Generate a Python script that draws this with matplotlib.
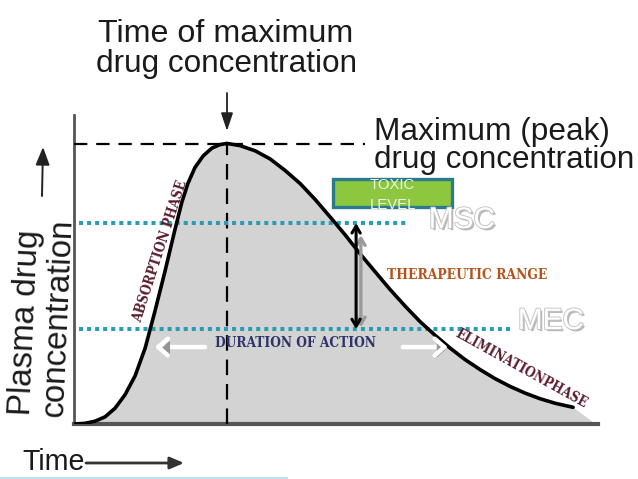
import matplotlib
matplotlib.use("Agg")
import matplotlib.pyplot as plt
import matplotlib.patheffects as pe
from matplotlib import font_manager
from matplotlib.font_manager import FontProperties
from matplotlib.lines import Line2D
from matplotlib.patches import Rectangle, FancyArrowPatch

# concentration-time curve (time units, % of axis height)
times = [0.02, 0.25, 0.48, 0.71, 0.94, 1.17, 1.40, 1.63, 1.85, 2.08, 2.31, 2.47,
         2.61, 2.77, 2.96, 3.16, 3.34, 3.50, 3.80, 4.15, 4.49, 4.83, 5.18, 5.52,
         5.86, 6.21, 6.55, 6.90, 7.24, 7.58, 7.92, 8.27, 8.61, 8.95, 9.30, 9.64,
         9.98, 10.33, 10.67, 11.02, 11.43]
conc = [0.0, 0.2, 0.9, 2.3, 5.1, 9.5, 15.6, 24.6, 36.3, 49.2, 62.8, 71.8,
        77.9, 83.0, 86.8, 89.3, 90.4, 90.8, 90.1, 88.4, 85.8, 82.1, 77.8, 72.7,
        67.1, 61.2, 55.1, 49.2, 43.5, 38.2, 33.2, 28.7, 24.6, 20.9, 17.6, 14.7,
        12.2, 10.0, 8.2, 6.7, 5.4]
fill_end_time = 11.95

t_max = 3.50
c_max = 90.7
msc = 65.0
mec = 30.7
msc_line_end = 7.65
mec_line_end = 9.98
peak_line_end = 6.66
toxic_box = (5.93, 70.2, 2.73, 9.1)  # t, c, width, height

W, H = 638, 479

SANS = FontProperties(family=["Liberation Sans", "DejaVu Sans"])
serif_file = None
for f in font_manager.fontManager.ttflist:
    if f.fname.endswith("DejaVuSerifCondensed-Bold.ttf"):
        serif_file = f.fname
        break
if serif_file:
    SERIF_B = FontProperties(fname=serif_file)
else:
    SERIF_B = FontProperties(family=["Liberation Serif", "DejaVu Serif"], weight="bold")


def fx(x):
    return x / W


def fy(y):
    return 1 - y / H


fig = plt.figure(figsize=(W / 100, H / 100), dpi=100)
fig.patch.set_facecolor("white")
renderer = fig.canvas.get_renderer()


def fit(s, prop, width_px):
    """font size (pt) that makes s about width_px wide"""
    p = prop.copy()
    p.set_size(10)
    w, _, _ = renderer.get_text_width_height_descent(s, p, ismath=False)
    return 10 * width_px / w


def fp(prop, size):
    p = prop.copy()
    p.set_size(size)
    return p


ax = fig.add_axes([fx(74), fy(424), fx(598) - fx(74), fy(115) - fy(424)])
ax.set_xlim(0, 12)
ax.set_ylim(0, 100)
ax.set_xticks([])
ax.set_yticks([])
for s in ("top", "right"):
    ax.spines[s].set_visible(False)
ax.spines["left"].set_color("#555555")
ax.spines["left"].set_linewidth(2.0)
ax.spines["bottom"].set_color("#555555")
ax.spines["bottom"].set_linewidth(3.0)
ax.set_facecolor("none")

# grey area under the curve
ax.fill_between(times + [fill_end_time], conc + [0], 0, color="#d3d3d3", lw=0, zorder=1)

# reference lines
ax.plot([0, peak_line_end], [c_max, c_max], color="black", lw=1.6,
        dashes=(6, 4), zorder=3, clip_on=False)
ax.plot([t_max, t_max], [0, c_max], color="black", lw=1.6,
        dashes=(7, 4), zorder=3)
ax.plot([0.11, msc_line_end], [msc, msc], color="#2b9db3", lw=2.9,
        linestyle=(0, (1, 1)), zorder=4)
ax.plot([0.11, mec_line_end], [mec, mec], color="#2b9db3", lw=2.9,
        linestyle=(0, (1, 1)), zorder=4)

ax.plot(times, conc, color="black", lw=2.6, solid_joinstyle="round",
        solid_capstyle="round", zorder=5)

# toxic level box
box = Rectangle((toxic_box[0], toxic_box[1]), toxic_box[2], toxic_box[3],
                facecolor="#8dc63f", edgecolor="#2c7b8c", lw=2.4, zorder=6)
ax.add_patch(box)
tox_prop = fp(SANS, fit("TOXIC", SANS, 45))
ax.text(6.78, 79.5, "TOXIC", color="#eef6e6", fontproperties=tox_prop,
        ha="left", va="top", zorder=7)
lvl = ax.text(6.78, 73.0, "LEVEL", color="#eef6e6", fontproperties=tox_prop,
              ha="left", va="top", zorder=7)
lvl.set_clip_path(box)

# MSC / MEC labels
glow = [pe.SimplePatchShadow(offset=(1.5, -1.5), shadow_rgbFace="#9a9a9a", alpha=0.7),
        pe.withStroke(linewidth=1.3, foreground="#c4c4c4")]
lvl_size = fit("MSC", SANS, 66)
ax.text(8.88, 66.0, "MSC", color="white", fontproperties=fp(SANS, lvl_size),
        ha="center", va="center", path_effects=glow, zorder=7)
ax.text(10.92, 33.3, "MEC", color="white", fontproperties=fp(SANS, lvl_size),
        ha="center", va="center", path_effects=glow, zorder=7)

# therapeutic range arrow (with grey shadow)
ax.annotate("", xy=(6.57, 62.0), xytext=(6.57, 30.4),
            arrowprops=dict(arrowstyle="<->,head_length=0.5,head_width=0.3",
                            color="#9a9a9a", lw=2.4), zorder=6)
ax.annotate("", xy=(6.46, msc), xytext=(6.46, mec),
            arrowprops=dict(arrowstyle="<->,head_length=0.5,head_width=0.3",
                            color="black", lw=2.2, shrinkA=0, shrinkB=0), zorder=7)

# duration of action arrows
white_arrow = dict(arrowstyle="->,head_length=0.7,head_width=0.6", color="white",
                   lw=3.2, shrinkA=0, shrinkB=0,
                   path_effects=[pe.SimplePatchShadow(offset=(1.5, -1.5),
                                                      shadow_rgbFace="#8a8a8a", alpha=0.9),
                                 pe.Normal()])
ax.annotate("", xy=(1.85, 24.9), xytext=(3.0, 24.9), arrowprops=white_arrow, zorder=7)
ax.annotate("", xy=(8.56, 24.9), xytext=(7.53, 24.9), arrowprops=white_arrow, zorder=7)

grow = 1.08  # reference face is a taller, condensed serif
ax.text(5.08, 26.2, "DURATION OF ACTION", color="#2f3468", ha="center", va="center",
        fontproperties=fp(SERIF_B, grow * fit("DURATION OF ACTION", SERIF_B, 149)),
        zorder=8)
ax.text(7.17, 48.2, "THERAPEUTIC RANGE", color="#b4541a", ha="left", va="center",
        fontproperties=fp(SERIF_B, grow * fit("THERAPEUTIC RANGE", SERIF_B, 148)),
        zorder=8)
ax.text(1.97, 56.0, "ABSORPTION PHASE", color="#5b1d2e", ha="center", va="center",
        rotation=72, rotation_mode="anchor",
        fontproperties=fp(SERIF_B, grow * fit("ABSORPTION PHASE", SERIF_B, 138)),
        zorder=8)
ax.text(10.24, 17.8, "ELIMINATIONPHASE", color="#5b1d2e", ha="center", va="center",
        rotation=-29, rotation_mode="anchor",
        fontproperties=fp(SERIF_B, grow * fit("ELIMINATIONPHASE", SERIF_B, 137)),
        zorder=8)

# text around the plot, placed in figure pixels
ink = "#1a1a1a"
fig.text(fx(226), fy(42), "Time of maximum", ha="center", va="baseline", color=ink,
         fontproperties=fp(SANS, fit("Time of maximum", SANS, 257)))
fig.text(fx(226), fy(72), "drug concentration", ha="center", va="baseline", color=ink,
         fontproperties=fp(SANS, fit("drug concentration", SANS, 263)))
fig.text(fx(374), fy(140), "Maximum (peak)", ha="left", va="baseline", color=ink,
         fontproperties=fp(SANS, fit("Maximum (peak)", SANS, 236)))
fig.text(fx(374), fy(168), "drug concentration", ha="left", va="baseline", color=ink,
         fontproperties=fp(SANS, fit("drug concentration", SANS, 261)))

ylab_size = fit("concentration", SANS, 200)
fig.text(fx(30), fy(416), "Plasma drug", rotation=87.5, rotation_mode="anchor",
         ha="left", va="baseline", color=ink, fontproperties=fp(SANS, ylab_size))
fig.text(fx(63), fy(417), "concentration", rotation=87.5, rotation_mode="anchor",
         ha="left", va="baseline", color=ink, fontproperties=fp(SANS, ylab_size))
fig.text(fx(22), fy(470), "Time", ha="left", va="baseline", color=ink,
         fontproperties=fp(SANS, fit("Time", SANS, 63)))

fig.add_artist(FancyArrowPatch((fx(227), fy(93)), (fx(227), fy(131)),
                               transform=fig.transFigure,
                               arrowstyle="-|>,head_length=0.9,head_width=0.3",
                               mutation_scale=12, color="#222222", lw=1.3,
                               shrinkA=0, shrinkB=0))
fig.add_artist(FancyArrowPatch((fx(42), fy(196)), (fx(43), fy(147)),
                               transform=fig.transFigure,
                               arrowstyle="-|>,head_length=0.9,head_width=0.35",
                               mutation_scale=12, color="#222222", lw=1.4,
                               shrinkA=0, shrinkB=0))
fig.add_artist(FancyArrowPatch((fx(86), fy(463)), (fx(184), fy(463)),
                               transform=fig.transFigure,
                               arrowstyle="-|>,head_length=0.7,head_width=0.3",
                               mutation_scale=12, color="#333333", lw=2.0,
                               shrinkA=0, shrinkB=0))

# faint slide edge at the bottom
fig.add_artist(Line2D([0, fx(287)], [fy(477.5), fy(477.5)], transform=fig.transFigure,
                      color="#bfe3ee", lw=1.5))

fig.savefig("out.png", dpi=100)
